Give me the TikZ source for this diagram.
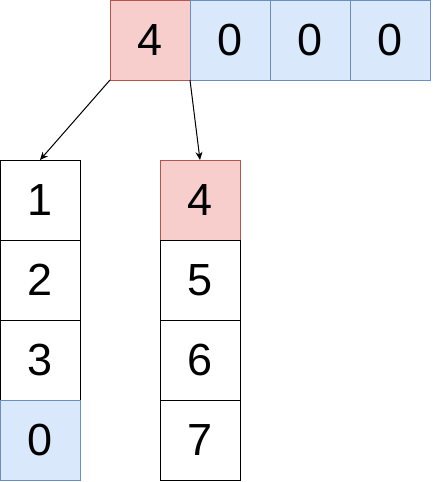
\documentclass[tikz,border=0pt]{standalone}
\usepackage{fontspec}
\setmainfont{Liberation Sans}
\usetikzlibrary{arrows.meta}
\definecolor{redfill}{HTML}{F8CECC}
\definecolor{redline}{HTML}{B85450}
\definecolor{bluefill}{HTML}{DAE8FC}
\definecolor{blueline}{HTML}{6C8EBF}
\tikzset{
  cell/.style={draw=black, fill=white, line width=1pt, minimum width=80pt, minimum height=80pt, inner sep=0pt, outer sep=0pt, font=\fontsize{45}{48}\selectfont},
  redcell/.style={cell, draw=redline, fill=redfill},
  bluecell/.style={cell, draw=blueline, fill=bluefill},
  link/.style={draw=black, line width=1pt, -{Stealth[length=8pt,width=7pt,inset=2.5pt]}}
}
\begin{document}
\begin{tikzpicture}[x=1pt,y=-1pt]
\useasboundingbox (0,0) rectangle (432,482);
% top row
\node[redcell] (t0) at (150,40) {4};
\node[bluecell] (t1) at (230,40) {0};
\node[bluecell] (t2) at (310,40) {0};
\node[bluecell] (t3) at (390,40) {0};
% left column
\node[cell] (a1) at (40,200) {1};
\node[cell] (a2) at (40,280) {2};
\node[cell] (a3) at (40,360) {3};
\node[bluecell] (a4) at (40,440) {0};
% middle column
\node[redcell] (b1) at (200,200) {4};
\node[cell] (b2) at (200,280) {5};
\node[cell] (b3) at (200,360) {6};
\node[cell] (b4) at (200,440) {7};
% connectors
\draw[link] (t0.south west) -- (a1.north);
\draw[link] (t0.south east) -- (b1.north);
\end{tikzpicture}
\end{document}
